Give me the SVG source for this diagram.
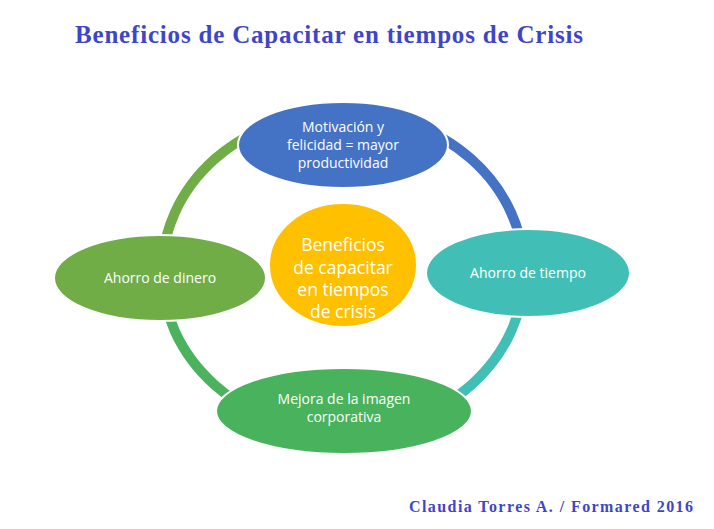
<svg xmlns="http://www.w3.org/2000/svg" width="714" height="529" viewBox="0 0 714 529">
<style>
.t{font-family:"Liberation Serif",serif;font-weight:bold;fill:#3F45C8}
.n{font-family:"Open Sans","Liberation Sans",sans-serif;font-size:14px;fill:#fff;text-anchor:middle}
.c{font-size:17.5px}
.arc{fill:none;stroke-width:10}
</style>
<rect width="714" height="529" fill="#fff"/>
<text class="t" x="75" y="43" font-size="25" textLength="508" lengthAdjust="spacing">Beneficios de Capacitar en tiempos de Crisis</text>
<text class="t" x="409" y="512" font-size="16" textLength="284" lengthAdjust="spacing">Claudia Torres A. / Formared 2016</text>
<g id="connectors">
<path class="arc" stroke="#4472C4" d="M343 112 A181 160 0 0 1 524 272"/>
<path class="arc" stroke="#41BFB7" d="M524 272 A181 160 0 0 1 343 432"/>
<path class="arc" stroke="#4BB35E" d="M343 432 A181 160 0 0 1 162 272"/>
<path class="arc" stroke="#70AD47" d="M162 272 A181 160 0 0 1 343 112"/>
</g>
<g id="top"><ellipse cx="343" cy="145" rx="105" ry="43" fill="#4472C4" stroke="#fff" stroke-width="2"/>
<text class="n" x="343" y="132">Motivación y</text><text class="n" x="343" y="150">felicidad = mayor</text><text class="n" x="343" y="168">productividad</text></g>
<g id="right"><ellipse cx="528" cy="273" rx="102" ry="44" fill="#41BFB7" stroke="#fff" stroke-width="2"/>
<text class="n" x="528" y="278">Ahorro de tiempo</text></g>
<g id="bottom"><ellipse cx="344" cy="411" rx="128" ry="43" fill="#48B35C" stroke="#fff" stroke-width="2"/>
<text class="n" x="344" y="404">Mejora de la imagen</text><text class="n" x="344" y="422">corporativa</text></g>
<g id="left"><ellipse cx="160" cy="278" rx="106" ry="43" fill="#70AD47" stroke="#fff" stroke-width="2"/>
<text class="n" x="160" y="283">Ahorro de dinero</text></g>
<g id="center"><ellipse cx="343" cy="265" rx="74" ry="62" fill="#FFC000" stroke="#fff" stroke-width="2"/>
<text class="n c" x="343" y="251">Beneficios</text><text class="n c" x="343" y="274">de capacitar</text><text class="n c" x="343" y="296">en tiempos</text><text class="n c" x="343" y="318">de crisis</text></g>
</svg>
